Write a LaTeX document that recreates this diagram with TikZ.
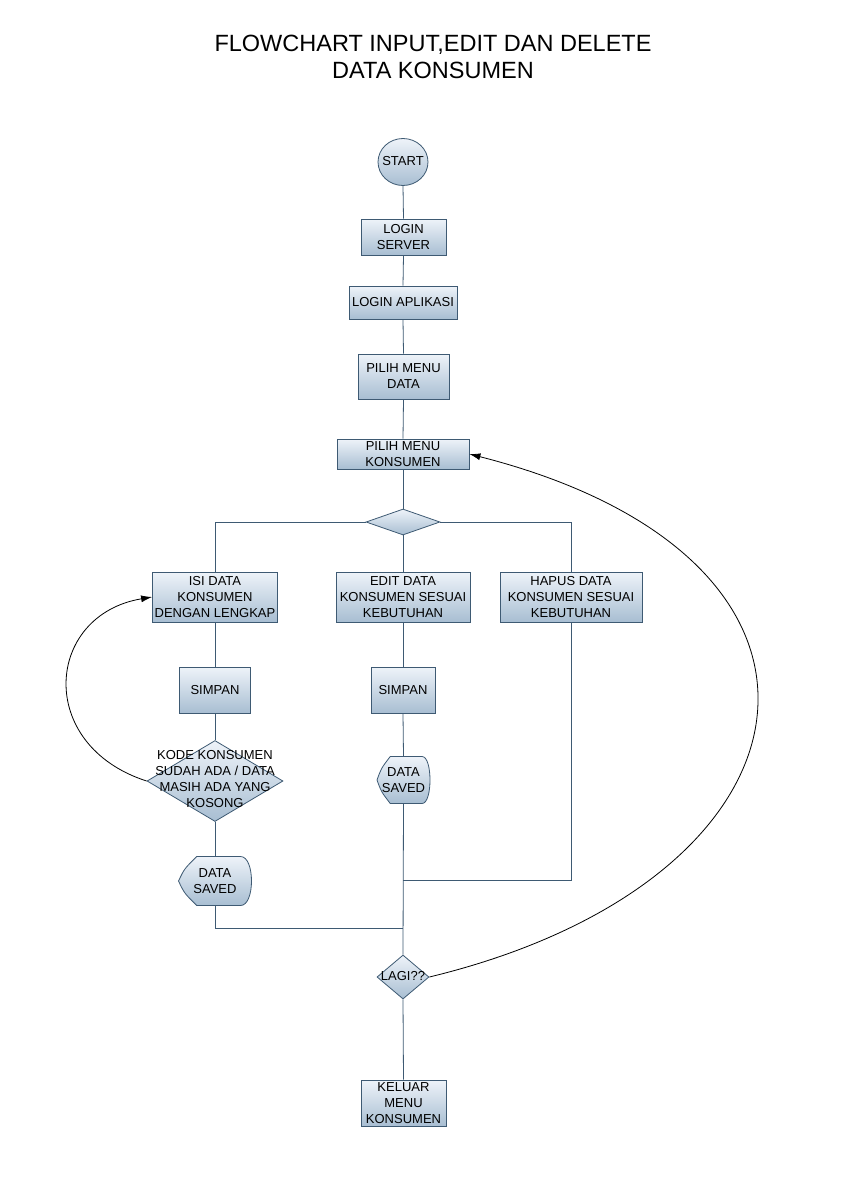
\documentclass[tikz,border=0pt]{standalone}
\usepackage{fontspec}
\setmainfont{Liberation Sans}
\usetikzlibrary{shapes.geometric,arrows.meta,calc}
\definecolor{bordc}{RGB}{62,90,115}
\definecolor{topc}{RGB}{238,243,249}
\definecolor{botc}{RGB}{168,190,210}
\newcommand{\dispnode}[6]{%
  \path[dispshape] (#2-#4/2,#3) .. controls (#2-#4/2+0.08*#4,#3-#5/4) .. (#2-#4/2+0.25*#4,#3-#5/2) -- (#2+#4/2-0.15*#4,#3-#5/2)
    .. controls (#2+#4/2+0.05*#4,#3-#5/2) and (#2+#4/2+0.05*#4,#3+#5/2) .. (#2+#4/2-0.15*#4,#3+#5/2)
    -- (#2-#4/2+0.25*#4,#3+#5/2) .. controls (#2-#4/2+0.08*#4,#3+#5/4) .. cycle;
  \node[txt, minimum width=#4, minimum height=#5] (#1) at (#2,#3) {#6};
}
\begin{document}
\begin{tikzpicture}[x=1pt,y=-1pt,
  box/.style={draw=bordc, line width=0.8pt, top color=topc, bottom color=botc,
    rectangle, inner sep=0pt, align=center, font=\fontsize{13}{16}\selectfont},
  dia/.style={draw=bordc, line width=0.8pt, top color=topc, bottom color=botc,
    diamond, inner sep=0pt},
  term/.style={draw=bordc, line width=0.8pt, top color=topc, bottom color=botc,
    ellipse, inner sep=0pt},
  txt/.style={inner sep=0pt, align=center, font=\fontsize{13}{16}\selectfont},
  dispshape/.style={draw=bordc, line width=0.8pt, top color=topc, bottom color=botc},
  conn/.style={draw=bordc, line width=0.8pt},
  loop/.style={draw=black, line width=0.8pt, -{Latex[length=11pt,width=7pt]}}
]
\useasboundingbox (0,0) rectangle (841,1189);
\fill[white] (0,0) rectangle (841,1189);

\node[font=\fontsize{23.5}{27}\selectfont, align=center] (title) at (433,57)
  {FLOWCHART INPUT,EDIT DAN DELETE\\DATA KONSUMEN};

\node[term, minimum width=50, minimum height=47] (start) at (403,162) {};
\node[txt] (startt) at (403,161) {START};
\node[box, minimum width=85, minimum height=36] (ls) at (403.5,237) {LOGIN\\SERVER};
\node[box, minimum width=108, minimum height=33] (la) at (403,302.5) {LOGIN APLIKASI};
\node[box, minimum width=91, minimum height=45] (pmd) at (403.5,376.5) {PILIH MENU\\DATA};
\node[box, minimum width=132, minimum height=30] (pmk) at (403,454) {PILIH MENU\\KONSUMEN};
\node[dia, minimum width=74, minimum height=26] (d1) at (403,522) {};

\node[box, minimum width=125, minimum height=50] (isi) at (215,597) {ISI DATA\\KONSUMEN\\DENGAN LENGKAP};
\node[box, minimum width=134, minimum height=50] (edit) at (403,597) {EDIT DATA\\KONSUMEN SESUAI\\KEBUTUHAN};
\node[box, minimum width=142, minimum height=50] (hapus) at (571,597) {HAPUS DATA\\KONSUMEN SESUAI\\KEBUTUHAN};

\node[box, minimum width=71, minimum height=46] (s1) at (215,690) {SIMPAN};
\node[box, minimum width=64, minimum height=46] (s2) at (403,690) {SIMPAN};

\node[dia, minimum width=136, minimum height=81] (kode) at (215,781) {};
\node[txt] (kodet) at (215,779) {KODE KONSUMEN\\SUDAH ADA / DATA\\MASIH ADA YANG\\KOSONG};

\dispnode{ds2}{403.5}{780}{53}{47}{DATA\\SAVED}
\dispnode{ds1}{215}{881}{73}{49}{DATA\\SAVED}

\node[dia, minimum width=52, minimum height=44] (lagi) at (403,977) {};
\node[txt] (lagit) at (403,976) {LAGI??};

\node[box, minimum width=85, minimum height=46] (kel) at (403.5,1103) {KELUAR\\MENU\\KONSUMEN};

\coordinate (j1) at (403,880);
\coordinate (j2) at (403,928);

\draw[conn] (start.south) -- (ls.north);
\draw[conn] (ls.south) -- (la.north);
\draw[conn] (la.south) -- (pmd.north);
\draw[conn] (pmd.south) -- (pmk.north);
\draw[conn] (pmk.south) -- (d1.north);
\draw[conn] (d1.west) -| (isi.north);
\draw[conn] (d1.east) -| (hapus.north);
\draw[conn] (d1.south) -- (edit.north);
\draw[conn] (isi.south) -- (s1.north);
\draw[conn] (s1.south) -- (kode.north);
\draw[conn] (kode.south) -- (ds1.north);
\draw[conn] (edit.south) -- (s2.north);
\draw[conn] (s2.south) -- (ds2.north);
\draw[conn] (ds2.south) -- (lagi.north);
\draw[conn] (hapus.south) |- (j1);
\draw[conn] (ds1.south) |- (j2);
\draw[conn] (lagi.south) -- (kel.north);

\draw[loop] (lagi.east) .. controls (830,880) and (885,560) .. (pmk.east);
\draw[loop] (kode.west) .. controls (35,745) and (45,615) .. (isi.west);
\end{tikzpicture}
\end{document}
